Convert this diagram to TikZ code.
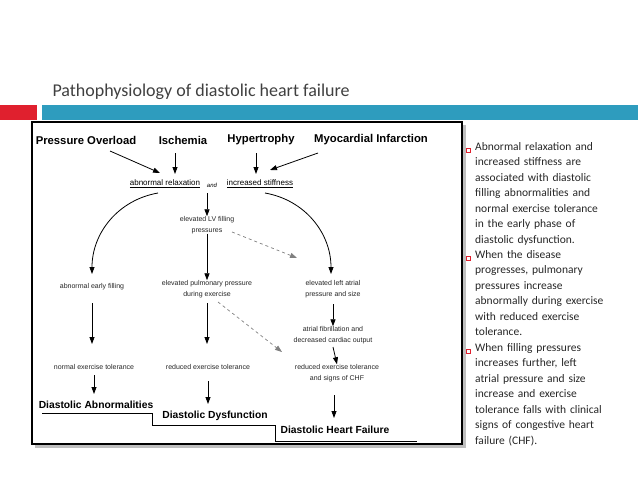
\documentclass[tikz,border=0pt]{standalone}
\usepackage{fontspec}
\setmainfont{Carlito}
\newfontfamily\arial{Liberation Sans}
\usetikzlibrary{arrows.meta}
\definecolor{teal1}{HTML}{2E9CBE}
\definecolor{red1}{HTML}{E0202E}
\tikzset{x=1pt,y=-1pt,
 big/.style={font=\arial\bfseries\fontsize{11.3}{12}\selectfont,inner sep=0pt},
 bigb/.style={font=\arial\bfseries\fontsize{10.3}{12}\selectfont,inner sep=0pt},
 sm/.style={font=\arial\fontsize{7}{10.5}\selectfont,align=center,inner sep=0pt,text=black!85},
 arr/.style={-{Triangle[length=7pt,width=5pt]},line width=0.8pt,draw=black},
 dsh/.style={-{Triangle[length=7pt,width=5pt]},dashed,gray,line width=0.7pt},
 bl/.style={font=\fontsize{11.5}{15.5}\selectfont,align=left,anchor=north west,inner sep=0pt,text width=150pt,text=black!85},
 bx/.style={draw=red1,line width=0.4pt,minimum size=4.5pt,inner sep=0pt}}
\begin{document}
\begin{tikzpicture}
\useasboundingbox (0,0) rectangle (638,479);
\node[anchor=west,font=\fontsize{18}{20}\selectfont,text=black!75] (title) at (49,92) {Pathophysiology of diastolic heart failure};
\fill[red1] (0,105) rectangle (37,120);
\fill[teal1] (42,105) rectangle (638,120);
\fill[gray!50] (35,125) rectangle (466,448);
\draw[line width=2pt,fill=white] (32,122) rectangle (462,444);
% top labels
\node[big] (po) at (86,140) {Pressure Overload};
\node[big] (isch) at (183,140) {Ischemia};
\node[big] (hy) at (261,140) {Hypertrophy};
\node[big] (mi) at (371,140) {Myocardial Infarction};
\node[font=\arial\fontsize{8}{9}\selectfont,inner sep=0pt] (rel) at (165,184) {\underline{abnormal relaxation}};
\node[font=\arial\itshape\fontsize{6}{8}\selectfont,inner sep=0pt] (andw) at (212,185) {and};
\node[font=\arial\fontsize{8}{9}\selectfont,inner sep=0pt] (st) at (260,184) {\underline{increased stiffness}};
\node[sm] (lv) at (207,225) {elevated LV filling\\pressures};
\node[sm] (aef) at (92,287) {abnormal early filling};
\node[sm] (pul) at (207,289) {elevated pulmonary pressure\\during exercise};
\node[sm] (la) at (333,289) {elevated left atrial\\pressure and size};
\node[sm] (af) at (333,335) {atrial fibrillation and\\decreased cardiac output};
\node[sm] (net) at (94,367) {normal exercise tolerance};
\node[sm] (ret) at (208,367) {reduced exercise tolerance};
\node[sm] (chf) at (337,373) {reduced exercise tolerance\\and signs of CHF};
\node[bigb] (dab) at (96,405) {Diastolic Abnormalities};
\node[bigb] (ddy) at (215,416) {Diastolic Dysfunction};
\node[bigb] (dhf) at (335,430) {Diastolic Heart Failure};
\draw[line width=0.6pt] (42,413) -- (152,413) -- (152,425) -- (275,425) -- (275,441) -- (417,441);
% arrows
\coordinate (p1) at (110,151);
\coordinate (p2) at (160,173);
\draw[arr] (p1) -- (p2);
\draw[arr] (175,153) -- (175,174);
\draw[arr] (256,153) -- (256,174);
\draw[arr] (318,153) -- (270,170);
\draw[arr] (158,193) to[out=190,in=90] (92,274);
\draw[arr] (207,193) -- (lv.north);
\draw[arr] (265,193) to[out=-10,in=90] (331,274);
\draw[arr] (lv.south) -- (pul.north);
\draw[dsh] (232,232) -- (297,258);
\draw[arr] (92,303) -- (92,344);
\draw[arr] (207,303) -- (207,344);
\draw[dsh] (218,302) -- (282,352);
\draw[arr] (333,304) -- (af.north);
\draw[arr] (333,347) -- (chf.north);
\draw[arr] (94,375) -- (94,394);
\draw[arr] (208,381) -- (208,404);
\draw[arr] (334,395) -- (334,418);
% bullets
\node[bx] (b1) at (468,150) {};
\node[bx] (b2) at (468,258) {};
\node[bx] (b3) at (468,351) {};
\node[bl] (t1) at (475,142) {Abnormal relaxation and\\increased stiffness are\\associated with diastolic\\filling abnormalities and\\normal exercise tolerance\\in the early phase of\\diastolic dysfunction.};
\node[bl] (t2) at (475,250) {When the disease\\progresses, pulmonary\\pressures increase\\abnormally during exercise\\with reduced exercise\\tolerance.};
\node[bl] (t3) at (475,343) {When filling pressures\\increases further, left\\atrial pressure and size\\increase and exercise\\tolerance falls with clinical\\signs of congestive heart\\failure (CHF).};
\end{tikzpicture}
\end{document}
